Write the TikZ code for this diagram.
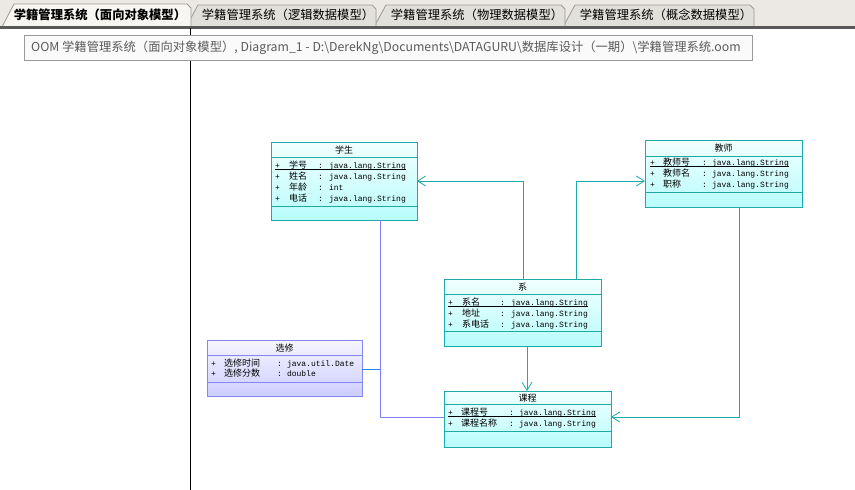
\documentclass[tikz,border=0pt]{standalone}
\usepackage{fontspec}
\setmainfont{Noto Sans CJK SC}
\newfontfamily\cjk{Noto Sans CJK SC}
\newfontfamily\mono{Liberation Mono}
\usetikzlibrary{arrows.meta}
\definecolor{tealB}{HTML}{1FA9A9}
\definecolor{tealTop}{HTML}{F2FFFF}
\definecolor{tealBot}{HTML}{B8FCFC}
\definecolor{lavB}{HTML}{8686F2}
\definecolor{lavTop}{HTML}{F6F6FF}
\definecolor{lavBot}{HTML}{CDCDFF}
\definecolor{purpL}{HTML}{8080FF}
\definecolor{blueL}{HTML}{2A84E8}
\definecolor{tabBg}{HTML}{ECE9E4}
\definecolor{tabIn}{HTML}{E2E0DA}
\definecolor{tabAct}{HTML}{F7F6F2}
\definecolor{tabEdge}{HTML}{9C9A94}
\definecolor{titleTxt}{HTML}{5A5A5A}
\newcommand\crow[8]{%
  \node[attr] (#1-p) at (#3,#2) {+};
  \node[attr] (#1-n) at (#4,#2) {\cjk\fontsize{9pt}{10pt}\selectfont #7};
  \node[attr] (#1-c) at (#5,#2) {:};
  \node[attr] (#1-t) at (#6,#2) {#8};
}
\begin{document}
\begin{tikzpicture}[x=1pt,y=-1pt,
  attr/.style={anchor=base west,inner sep=0pt,outer sep=0pt,font=\mono\fontsize{8pt}{9pt}\selectfont},
  hdr/.style={anchor=base,inner sep=0pt,font=\cjk\fontsize{9pt}{10pt}\selectfont},
  tbox/.style={draw=tealB,line width=1pt,top color=tealTop,bottom color=tealBot,anchor=north west,inner sep=0pt,outer sep=0pt},
  lbox/.style={draw=lavB,line width=1pt,top color=lavTop,bottom color=lavBot,anchor=north west,inner sep=0pt,outer sep=0pt},
  tsep/.style={draw=tealB,line width=1pt},
  lsep/.style={draw=lavB,line width=1pt},
  ul/.style={draw=black,line width=0.8pt},
  tconn/.style={draw=tealB,line width=0.9pt,-{Straight Barb[length=8pt,width=10pt,line width=0.8pt]}},
  pconn/.style={draw=purpL,line width=0.9pt},
  bconn/.style={draw=blueL,line width=0.9pt},
  tab/.style={draw=tabEdge,line width=0.8pt,fill=tabIn},
  tabtxt/.style={inner sep=0pt,font=\cjk\fontsize{12.3pt}{13pt}\selectfont}
]
\useasboundingbox (0,0) rectangle (855,490);
\fill[white] (0,0) rectangle (855,490);

% tab bar
\fill[tabBg] (0,0) rectangle (855,27);
\path[tab] (563,27) -- (575,5) -- (750,5) -- (754,9) -- (754,27);
\path[tab] (374,27) -- (386,5) -- (561,5) -- (565,9) -- (565,27);
\path[tab] (186,27) -- (198,5) -- (372,5) -- (376,9) -- (376,27);
\path[tab,fill=tabAct] (2,27) -- (14,4) -- (187,4) -- (191,8) -- (191,27);
\fill[gray!70!black] (0,26) rectangle (855,28.5);
\node[tabtxt,font=\cjk\bfseries\fontsize{12.3pt}{13pt}\selectfont] (t1) at (100,15) {学籍管理系统（面向对象模型）};
\node[tabtxt] (t2) at (288,15) {学籍管理系统（逻辑数据模型）};
\node[tabtxt] (t3) at (477,15) {学籍管理系统（物理数据模型）};
\node[tabtxt] (t4) at (666,15) {学籍管理系统（概念数据模型）};

% vertical divider
\draw[black,line width=1pt] (190,28) -- (190,490);

% title box
\node[draw=gray!80,fill=white!96!gray,line width=0.8pt,anchor=north west,minimum width=728pt,minimum height=25pt,inner sep=0pt] (tb) at (24,35) {};
\node[anchor=west,inner sep=0pt,text=titleTxt,font=\fontsize{12.3pt}{13pt}\selectfont] (tt) at (31,47.5) {OOM 学籍管理系统（面向对象模型）, Diagram\_1 - D:\textbackslash DerekNg\textbackslash Documents\textbackslash DATAGURU\textbackslash 数据库设计（一期）\textbackslash 学籍管理系统.oom};

% ---------- classes ----------
% 学生
\node[tbox,minimum width=146pt,minimum height=78pt] (stu) at (271,142) {};
\draw[tsep] ([yshift=-15pt]stu.north west) -- ([yshift=-15pt]stu.north east);
\draw[tsep] ([yshift=-64pt]stu.north west) -- ([yshift=-64pt]stu.north east);
\node[hdr] (stu-h) at (344,153) {学生};
\crow{s1}{168}{275}{289}{318}{329}{学号}{java.lang.String}
\crow{s2}{179}{275}{289}{318}{329}{姓名}{java.lang.String}
\crow{s3}{190}{275}{289}{318}{329}{年龄}{int}
\crow{s4}{201}{275}{289}{318}{329}{电话}{java.lang.String}
\draw[ul] ([yshift=-1.8pt]s1-p.base west) -- ([yshift=-1.8pt]s1-t.base east);

% 教师
\node[tbox,minimum width=157pt,minimum height=67pt] (js) at (645,140) {};
\draw[tsep] ([yshift=-16pt]js.north west) -- ([yshift=-16pt]js.north east);
\draw[tsep] ([yshift=-52pt]js.north west) -- ([yshift=-52pt]js.north east);
\node[hdr] (js-h) at (723.5,151) {教师};
\crow{j1}{165}{650}{663}{702}{712}{教师号}{java.lang.String}
\crow{j2}{176}{650}{663}{702}{712}{教师名}{java.lang.String}
\crow{j3}{187}{650}{663}{702}{712}{职称}{java.lang.String}
\draw[ul] ([yshift=-1.8pt]j1-p.base west) -- ([yshift=-1.8pt]j1-t.base east);

% 系
\node[tbox,minimum width=157pt,minimum height=67pt] (xi) at (444,279) {};
\draw[tsep] ([yshift=-15pt]xi.north west) -- ([yshift=-15pt]xi.north east);
\draw[tsep] ([yshift=-52pt]xi.north west) -- ([yshift=-52pt]xi.north east);
\node[hdr] (xi-h) at (522.5,290) {系};
\crow{x1}{305}{448}{462}{500}{511}{系名}{java.lang.String}
\crow{x2}{316}{448}{462}{500}{511}{地址}{java.lang.String}
\crow{x3}{327}{448}{462}{500}{511}{系电话}{java.lang.String}
\draw[ul] ([yshift=-1.8pt]x1-p.base west) -- ([yshift=-1.8pt]x1-t.base east);

% 课程
\node[tbox,minimum width=167pt,minimum height=56pt] (kc) at (444,391) {};
\draw[tsep] ([yshift=-13pt]kc.north west) -- ([yshift=-13pt]kc.north east);
\draw[tsep] ([yshift=-40pt]kc.north west) -- ([yshift=-40pt]kc.north east);
\node[hdr] (kc-h) at (527.5,401) {课程};
\crow{k1}{415}{448}{461}{509}{519}{课程号}{java.lang.String}
\crow{k2}{426}{448}{461}{509}{519}{课程名称}{java.lang.String}
\draw[ul] ([yshift=-1.8pt]k1-p.base west) -- ([yshift=-1.8pt]k1-t.base east);

% 选修
\node[lbox,minimum width=155pt,minimum height=56pt] (xx) at (207,340) {};
\draw[lsep] ([yshift=-15pt]xx.north west) -- ([yshift=-15pt]xx.north east);
\draw[lsep] ([yshift=-42pt]xx.north west) -- ([yshift=-42pt]xx.north east);
\node[hdr] (xx-h) at (284.5,351) {选修};
\crow{c1}{366}{211}{224}{277}{287}{选修时间}{java.util.Date}
\crow{c2}{376}{211}{224}{277}{287}{选修分数}{double}

% ---------- connectors ----------
\coordinate (j1c) at (380,417);
\coordinate (j2c) at (380,369);
\draw[pconn] (stu.south -| j1c) -- (j1c) -- (kc.west |- j1c);
\draw[bconn] (xx.east |- j2c) -- (j2c);

\coordinate (a1) at (523,181);
\coordinate (a2) at (576,181);
\coordinate (a3) at (527,300);
\coordinate (a4) at (739,417);
\draw[tconn] (xi.north -| a1) -- (a1) -- (stu.east |- a1);
\draw[tconn] (xi.north -| a2) -- (a2) -- (js.west |- a2);
\draw[tconn] (xi.south -| a3) -- (kc.north -| a3);
\draw[tconn] (js.south -| a4) -- (a4) -- (kc.east |- a4);
\end{tikzpicture}
\end{document}
